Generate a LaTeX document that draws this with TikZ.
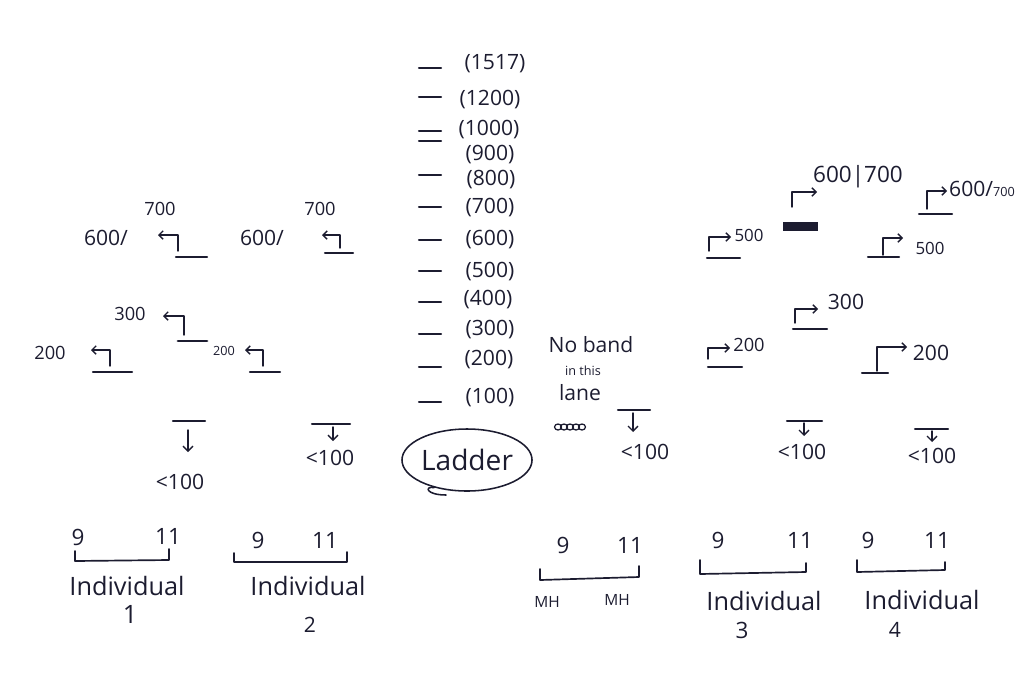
\documentclass[tikz,border=0pt]{standalone}
\usepackage{fontspec}
\setmainfont{Open Sans}
\usetikzlibrary{arrows.meta,shapes.geometric}
\definecolor{ink}{RGB}{28,28,48}
\begin{document}
\begin{tikzpicture}[x=0.025cm,y=-0.025cm,color=ink,line cap=round,line join=round,
  bandline/.style={line width=1.5pt},
  hookarrow/.style={line width=1pt,-{Straight Barb[length=3pt,width=6pt]}},
  downarrow/.style={line width=1pt,-{Straight Barb[length=3.5pt,width=7pt]}},
  lbl/.style={font=\fontsize{15}{15}\selectfont,inner sep=0pt},
  mid/.style={font=\fontsize{13}{13}\selectfont,inner sep=0pt},
  sml/.style={font=\fontsize{11}{11}\selectfont,inner sep=0pt},
  tiny/.style={font=\fontsize{9}{9}\selectfont,inner sep=0pt},
  num/.style={font=\fontsize{16}{16}\selectfont,inner sep=0pt},
  indiv/.style={font=\fontsize{18}{18}\selectfont,inner sep=0pt},
  bracketline/.style={line width=1.2pt},
  ladlbl/.style={font=\fontsize{15}{15}\selectfont,inner sep=0pt}]
\useasboundingbox (0,0) rectangle (1024,672);

% ---------------- Ladder ----------------
\foreach \y/\t/\lx/\ly in {68/(1517)/495/64, 97/(1200)/490/100, 131/(1000)/489/130, 141/(900)/490/155,
  175/(800)/491/180, 207/(700)/490/208, 240/(600)/490/240, 271/(500)/490/272, 302/(400)/488/300,
  334/(300)/490/330, 367/(200)/489/360, 402/(100)/490/398}{
  \draw[bandline] (419,\y) -- (441,\y);
  \node[ladlbl] at (\lx,\ly) {\t};
}
\node[ellipse,draw,line width=1.1pt,minimum width=120*0.025cm,minimum height=62*0.025cm,
  font=\fontsize{20}{20}\selectfont,inner sep=0pt] (ladder) at (467,460) {Ladder};
\draw[line width=1.1pt] (ladder.220) .. controls (424,486) and (426,495) .. (446,495);

% ---------------- Individual 1 ----------------
\coordinate (b1aL) at (176,257); \coordinate (b1aR) at (207,257);
\draw[bandline] (b1aL) -- (b1aR);
\node[lbl] (l1a) at (106,238) {600/};
\node[mid] (l1a2) at (160,209) {700};
\coordinate (s1a) at (178,251); \coordinate (t1a) at (158,235);
\draw[hookarrow] (s1a) |- (t1a);

\coordinate (b1bL) at (178,341); \coordinate (b1bR) at (207,341);
\draw[bandline,line width=2pt] (b1bL) -- (b1bR);
\node[mid] (l1b) at (130,314) {300};
\coordinate (s1b) at (184,335); \coordinate (t1b) at (163,316);
\draw[hookarrow] (s1b) |- (t1b);

\coordinate (b1cL) at (93,372); \coordinate (b1cR) at (132,372);
\draw[bandline] (b1cL) -- (b1cR);
\node[mid] (l1c) at (50,353) {200};
\coordinate (s1c) at (110,366); \coordinate (t1c) at (91,350);
\draw[hookarrow] (s1c) |- (t1c);

\coordinate (b1dL) at (173,421); \coordinate (b1dR) at (205,421);
\draw[bandline] (b1dL) -- (b1dR);
\node[lbl] (l1d) at (180,482) {<100};
\coordinate (s1d) at (188,430); \coordinate (t1d) at (188,452);
\draw[downarrow] (s1d) -- (t1d);

\node[num] (n1a) at (78,537) {9};
\node[num] (n1b) at (168,536) {11};
\draw[bracketline] (75,551) -- (75,561) -- (169,560) -- (169,549);
\node[indiv] (i1) at (127,586) {Individual};
\node[indiv] (k1) at (130,614) {1};

% ---------------- Individual 2 ----------------
\coordinate (b2aL) at (325,253); \coordinate (b2aR) at (353,253);
\draw[bandline] (b2aL) -- (b2aR);
\node[lbl] (l2a) at (262,238) {600/};
\node[mid] (l2a2) at (320,209) {700};
\coordinate (s2a) at (340,248); \coordinate (t2a) at (322,235);
\draw[hookarrow] (s2a) |- (t2a);

\coordinate (b2cL) at (250,372); \coordinate (b2cR) at (280,372);
\draw[bandline] (b2cL) -- (b2cR);
\node[tiny] (l2c) at (224,351) {200};
\coordinate (s2c) at (263,366); \coordinate (t2c) at (245,350);
\draw[hookarrow] (s2c) |- (t2c);

\coordinate (b2dL) at (312,424); \coordinate (b2dR) at (350,424);
\draw[bandline] (b2dL) -- (b2dR);
\node[lbl] (l2d) at (330,458) {<100};
\coordinate (s2d) at (333,427); \coordinate (t2d) at (333,441);
\draw[downarrow] (s2d) -- (t2d);

\node[num] (n2a) at (258,540) {9};
\node[num] (n2b) at (325,540) {11};
\draw[bracketline] (234,553) -- (234,562) -- (347,562) -- (347,552);
\node[indiv] (i2) at (308,586) {Individual};
\node[lbl] (k2) at (310,625) {2};

% ---------------- MH lane ----------------
\node[lbl] (nb1) at (591,345) {No band};
\node[tiny] (nb2) at (583,371) {in this};
\node[lbl] (nb3) at (580,393) {lane};
\foreach \xx in {558,564,570,576,582}{\draw[line width=0.9pt] (\xx,427) ellipse (3.5 and 3);}

\coordinate (bMdL) at (618,410); \coordinate (bMdR) at (650,410);
\draw[bandline] (bMdL) -- (bMdR);
\node[lbl] (lMd) at (645,452) {<100};
\coordinate (sMd) at (633,413); \coordinate (tMd) at (633,432);
\draw[downarrow] (sMd) -- (tMd);

\node[num] (nMa) at (563,545) {9};
\node[num] (nMb) at (630,545) {11};
\draw[bracketline] (540,569) -- (540,580) -- (639,577) -- (639,566);
\node[sml] (m1) at (547,602) {MH};
\node[sml] (m2) at (617,600) {MH};

% ---------------- Individual 3 ----------------
\coordinate (b3aL) at (707,258); \coordinate (b3aR) at (740,258);
\draw[bandline] (b3aL) -- (b3aR);
\node[sml,font=\fontsize{12}{12}\selectfont] (l3a) at (749,235) {500};
\coordinate (s3a) at (709,251); \coordinate (t3a) at (731,237);
\draw[hookarrow] (s3a) |- (t3a);

\fill (783,222) rectangle (818,231);
\node[lbl,font=\fontsize{16}{16}\selectfont] (l3b) at (858,177) {600|700};
\coordinate (s3b) at (792,207); \coordinate (t3b) at (817,192);
\draw[hookarrow] (s3b) |- (t3b);

\coordinate (b3cL) at (793,329); \coordinate (b3cR) at (827,329);
\draw[bandline] (b3cL) -- (b3cR);
\node[lbl] (l3c) at (846,302) {300};
\coordinate (s3c) at (795,323); \coordinate (t3c) at (818,309);
\draw[hookarrow] (s3c) |- (t3c);

\coordinate (b3dL) at (708,367); \coordinate (b3dR) at (742,367);
\draw[bandline] (b3dL) -- (b3dR);
\node[mid] (l3d) at (749,345) {200};
\coordinate (s3d) at (708,359); \coordinate (t3d) at (730,348);
\draw[hookarrow] (s3d) |- (t3d);

\coordinate (b3eL) at (787,421); \coordinate (b3eR) at (822,421);
\draw[bandline] (b3eL) -- (b3eR);
\node[lbl] (l3e) at (802,452) {<100};
\coordinate (s3e) at (804,423); \coordinate (t3e) at (804,436);
\draw[downarrow] (s3e) -- (t3e);

\node[num] (n3a) at (718,540) {9};
\node[num] (n3b) at (800,540) {11};
\draw[bracketline] (700,560) -- (700,574) -- (806,572) -- (806,563);
\node[indiv] (i3) at (764,601) {Individual};
\node[lbl,font=\fontsize{16}{16}\selectfont] (k3) at (742,630) {3};

% ---------------- Individual 4 ----------------
\coordinate (b4aL) at (919,214); \coordinate (b4aR) at (952,214);
\draw[bandline] (b4aL) -- (b4aR);
\node[lbl] (l4a) at (982,189) {600/{\fontsize{9}{9}\selectfont 700}};
\coordinate (s4a) at (927,209); \coordinate (t4a) at (947,191);
\draw[hookarrow] (s4a) |- (t4a);

\coordinate (b4bL) at (868,257); \coordinate (b4bR) at (899,257);
\draw[bandline] (b4bL) -- (b4bR);
\node[sml,font=\fontsize{12}{12}\selectfont] (l4b) at (930,248) {500};
\coordinate (s4b) at (883,255); \coordinate (t4b) at (903,238);
\draw[hookarrow] (s4b) |- (t4b);

\coordinate (b4cL) at (862,373); \coordinate (b4cR) at (888,373);
\draw[bandline] (b4cL) -- (b4cR);
\node[lbl] (l4c) at (931,353) {200};
\coordinate (s4c) at (877,371); \coordinate (t4c) at (907,347);
\draw[hookarrow] (s4c) |- (t4c);

\coordinate (b4dL) at (915,429); \coordinate (b4dR) at (948,429);
\draw[bandline] (b4dL) -- (b4dR);
\node[lbl] (l4d) at (932,456) {<100};
\coordinate (s4d) at (932,431); \coordinate (t4d) at (932,442);
\draw[downarrow] (s4d) -- (t4d);

\node[num] (n4a) at (868,540) {9};
\node[num] (n4b) at (937,540) {11};
\draw[bracketline] (857,560) -- (857,572) -- (945,570) -- (945,562);
\node[indiv] (i4) at (922,600) {Individual};
\node[lbl] (k4) at (895,630) {4};
\end{tikzpicture}
\end{document}
